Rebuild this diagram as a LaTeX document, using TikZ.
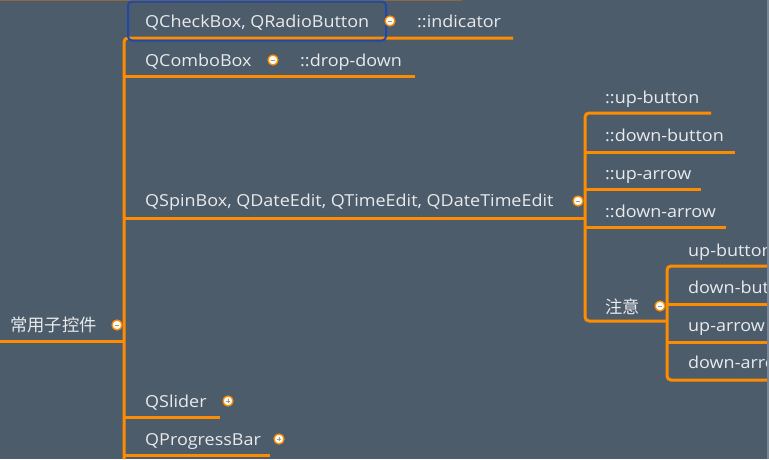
\documentclass[tikz,border=0pt]{standalone}
\usepackage{fontspec}
\setmainfont[FakeStretch=1.09]{Open Sans}
\newfontfamily\cjkfont{Noto Sans CJK SC}
\definecolor{bg}{RGB}{77,92,107}
\definecolor{br}{RGB}{255,140,0}
\definecolor{txt}{RGB}{232,234,236}
\definecolor{selblue}{RGB}{30,72,170}
\definecolor{strip}{RGB}{120,133,146}
\definecolor{topline}{RGB}{140,105,60}
\tikzset{
  lbl/.style={anchor=base west, inner sep=0pt, text=txt, font=\fontsize{16.5}{19}\selectfont},
  cjk/.style={anchor=base west, inner sep=0pt, text=txt, font=\cjkfont\fontsize{17.3}{20}\selectfont},
  branch/.style={draw=br, line width=3pt, rounded corners=4pt},
  knob/.style={circle, draw=br, fill={rgb,255:red,255;green,250;blue,240}, line width=1.3pt, minimum size=10pt, inner sep=0pt},
  minus/.style={knob, path picture={\draw[gray!80, line width=0.9pt] ([xshift=-2.4pt]path picture bounding box.center) -- ([xshift=2.4pt]path picture bounding box.center);}},
  plus/.style={knob, path picture={\draw[gray!80, line width=0.9pt] ([xshift=-2.4pt]path picture bounding box.center) -- ([xshift=2.4pt]path picture bounding box.center) ([yshift=-2.4pt]path picture bounding box.center) -- ([yshift=2.4pt]path picture bounding box.center);}},
}
\begin{document}
\begin{tikzpicture}[x=1pt,y=-1pt]
\fill[bg] (0,0) rectangle (769,459);
\useasboundingbox (0,0) rectangle (769,459);
\draw[topline, line width=1pt] (0,0.5) -- (462,0.5);

% coordinates of the tree lines
\coordinate (tTop) at (124,38);
\coordinate (tBot) at (124,459);
\coordinate (rootL) at (0,341);   \coordinate (rootR) at (124,341);
\coordinate (chkR) at (513,38);
\coordinate (cmbL) at (124,76);   \coordinate (cmbR) at (415,76);
\coordinate (spnL) at (124,218);  \coordinate (spnR) at (585,218);
\coordinate (sldL) at (124,417);  \coordinate (sldR) at (220,417);
\coordinate (prgL) at (124,455);  \coordinate (prgR) at (270,455);
\coordinate (sTop) at (585,113);  \coordinate (sBot) at (585,321);
\coordinate (ubR) at (711,113);
\coordinate (dbL) at (585,152);   \coordinate (dbR) at (735,152);
\coordinate (uaL) at (585,189);   \coordinate (uaR) at (701,189);
\coordinate (daL) at (585,227);   \coordinate (daR) at (726,227);
\coordinate (zyR) at (667,321);
\coordinate (ssTop) at (667,266); \coordinate (ssBot) at (667,380);
\coordinate (n1R) at (767,266);
\coordinate (n2L) at (667,304);   \coordinate (n2R) at (767,304);
\coordinate (n3L) at (667,342);   \coordinate (n3R) at (767,342);
\coordinate (n4R) at (767,380);

% main trunk
\draw[branch] (chkR) -- (tTop) -- (tBot);
\draw[branch] (rootL) -- (rootR);
\draw[branch] (cmbL) -- (cmbR);
\draw[branch] (spnL) -- (spnR);
\draw[branch] (sldL) -- (sldR);
\draw[branch] (prgL) -- (prgR);
% spin box sub-trunk
\draw[branch] (ubR) -- (sTop) -- (sBot) -- (zyR);
\draw[branch] (dbL) -- (dbR);
\draw[branch] (uaL) -- (uaR);
\draw[branch] (daL) -- (daR);
% notice sub-sub-trunk
\draw[branch] (n1R) -- (ssTop) -- (ssBot) -- (n4R);
\draw[branch] (n2L) -- (n2R);
\draw[branch] (n3L) -- (n3R);

% selection box
\draw[selblue, line width=2pt, rounded corners=4pt] (128,1.5) rectangle (386,40.5);

% texts
\node[cjk] (root) at (10,331) {常用子控件};
\node[lbl] (chk) at (145,27) {QCheckBox, QRadioButton};
\node[lbl] (ind) at (417,27) {::indicator};
\node[lbl] (cmb) at (145,66) {QComboBox};
\node[lbl] (dd) at (300,66) {::drop-down};
\node[lbl] (spn) at (145,206) {QSpinBox, QDateEdit, QTimeEdit, QDateTimeEdit};
\node[lbl] (ub) at (605,103) {::up-button};
\node[lbl] (db) at (605,141) {::down-button};
\node[lbl] (ua) at (605,179) {::up-arrow};
\node[lbl] (da) at (605,217) {::down-arrow};
\node[cjk] (zy) at (605,313) {注意};
\begin{scope}
\clip (0,0) rectangle (767,459);
\node[lbl] (n1) at (688,256) {up-button};
\node[lbl] (n2) at (688,293) {down-button};
\node[lbl] (n3) at (688,331) {up-arrow};
\node[lbl] (n4) at (688,368) {down-arrow};
\end{scope}
\node[lbl] (sld) at (145,407) {QSlider};
\node[lbl] (prg) at (145,445) {QProgressBar};

% expand / collapse knobs
\node[minus] (kRoot) at (117,325) {};
\node[minus] (kChk) at (390,21) {};
\node[minus] (kCmb) at (273,60) {};
\node[minus] (kSpn) at (578,201) {};
\node[minus] (kZy) at (660,306) {};
\node[plus] (kSld) at (228,401) {};
\node[plus] (kPrg) at (279,439) {};

\fill[strip] (767,0) rectangle (769,459);
\end{tikzpicture}
\end{document}
